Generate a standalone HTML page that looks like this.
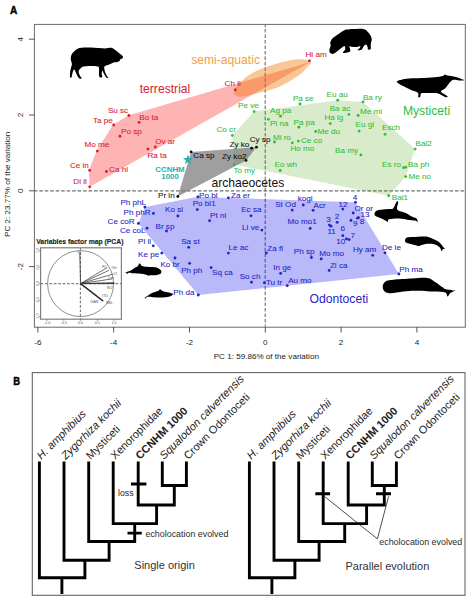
<!DOCTYPE html>
<html><head><meta charset="utf-8"><style>
html,body{margin:0;padding:0;background:#fff;width:470px;height:600px;overflow:hidden}
svg{display:block;font-family:"Liberation Sans",sans-serif}
</style></head><body>
<svg width="470" height="600" viewBox="0 0 470 600">
<rect width="470" height="600" fill="#fff"/>
<text transform="translate(10.1 14) scale(0.92 1)" font-weight="bold" font-size="11" fill="#000" stroke="#000" stroke-width="0.45">A</text>
<line x1="265.2" y1="25" x2="265.2" y2="326.5" stroke="#6e6e6e" stroke-width="1.1" stroke-dasharray="3.6,1.87" stroke-dashoffset="1.45"/>
<line x1="35" y1="190.9" x2="465" y2="190.9" stroke="#6e6e6e" stroke-width="1.1" stroke-dasharray="3.6,1.87" stroke-dashoffset="1.18"/>
<polygon points="89.7,186.8 88.9,170.3 96.6,150.8 113.2,124.6 128.9,115.2 309.8,62.2" fill="rgb(255,0,0)" fill-opacity="0.294"/>
<path d="M233.7,91.2 C234.0,89.8 235.0,87.5 236.6,85.4 C238.2,83.3 240.6,80.9 243.3,78.7 C246.0,76.5 249.1,74.1 252.9,72.0 C256.7,69.9 261.5,68.0 266.3,66.3 C271.1,64.5 276.8,62.8 281.6,61.5 C286.4,60.2 291.2,59.1 295.0,58.6 C298.8,58.1 302.2,58.4 304.6,58.6 C307.0,58.8 308.4,59.1 309.4,59.6 C310.4,60.1 310.9,61.0 310.7,61.9 C310.5,62.8 310.0,63.4 308.4,65.3 C306.8,67.1 304.0,70.5 300.8,73.0 C297.6,75.5 293.5,78.2 289.3,80.6 C285.1,83.0 280.4,85.5 275.9,87.3 C271.4,89.1 267.0,90.0 262.5,91.2 C258.0,92.4 252.9,93.6 249.1,94.4 C245.3,95.2 241.9,96.1 239.5,96.0 C237.1,95.9 235.7,94.5 234.7,93.7 C233.7,92.9 233.4,92.6 233.7,91.2 Z" fill="rgb(240,116,0)" fill-opacity="0.41" transform="translate(0 0.8)"/>
<polygon points="254.1,111.6 337.7,100.2 363,101.9 415.1,149.1 405.7,176.6 388.7,195.7 234,164.5 232.3,135.4" fill="rgb(60,160,0)" fill-opacity="0.2"/>
<polygon points="144.9,207.1 197.9,196.8 228.4,197.9 355.5,202.3 398.9,274 287.2,285.7 198.3,295 138.4,223.4" fill="rgb(0,0,233)" fill-opacity="0.2745"/>
<polygon points="191.1,151.9 256.5,147.2 246,160.4 177.8,196.5" fill="#7a7a7a" fill-opacity="0.72"/>
<rect x="34.4" y="24.4" width="430.9" height="302.8" fill="none" stroke="#6a6a6a" stroke-width="1"/>
<line x1="37.9" y1="327" x2="37.9" y2="332.5" stroke="#444" stroke-width="0.9"/>
<text x="37.9" y="345" font-size="8.1" fill="#222" text-anchor="middle">-6</text>
<line x1="113.7" y1="327" x2="113.7" y2="332.5" stroke="#444" stroke-width="0.9"/>
<text x="113.7" y="345" font-size="8.1" fill="#222" text-anchor="middle">-4</text>
<line x1="189.5" y1="327" x2="189.5" y2="332.5" stroke="#444" stroke-width="0.9"/>
<text x="189.5" y="345" font-size="8.1" fill="#222" text-anchor="middle">-2</text>
<line x1="265.3" y1="327" x2="265.3" y2="332.5" stroke="#444" stroke-width="0.9"/>
<text x="265.3" y="345" font-size="8.1" fill="#222" text-anchor="middle">0</text>
<line x1="341.1" y1="327" x2="341.1" y2="332.5" stroke="#444" stroke-width="0.9"/>
<text x="341.1" y="345" font-size="8.1" fill="#222" text-anchor="middle">2</text>
<line x1="416.9" y1="327" x2="416.9" y2="332.5" stroke="#444" stroke-width="0.9"/>
<text x="416.9" y="345" font-size="8.1" fill="#222" text-anchor="middle">4</text>
<line x1="29" y1="266.6" x2="34.5" y2="266.6" stroke="#444" stroke-width="0.9"/>
<text transform="translate(22.5 266.6) rotate(-90)" font-size="8.1" fill="#222" text-anchor="middle">-2</text>
<line x1="29" y1="190.8" x2="34.5" y2="190.8" stroke="#444" stroke-width="0.9"/>
<text transform="translate(22.5 190.8) rotate(-90)" font-size="8.1" fill="#222" text-anchor="middle">0</text>
<line x1="29" y1="115" x2="34.5" y2="115" stroke="#444" stroke-width="0.9"/>
<text transform="translate(22.5 115) rotate(-90)" font-size="8.1" fill="#222" text-anchor="middle">2</text>
<line x1="29" y1="39.2" x2="34.5" y2="39.2" stroke="#444" stroke-width="0.9"/>
<text transform="translate(22.5 39.2) rotate(-90)" font-size="8.1" fill="#222" text-anchor="middle">4</text>
<text x="266.3" y="358.9" font-size="8.1" fill="#222" text-anchor="middle">PC 1: 59.86% of the variation</text>
<text transform="translate(10 184.3) rotate(-90)" font-size="8.1" fill="#222" text-anchor="middle">PC 2: 23.77% of the variation</text>
<g fill="#d42034" stroke="#d42034" stroke-width="0.08">
<circle cx="89.7" cy="186.8" r="1.4"/>
<circle cx="89.7" cy="170.3" r="1.4"/>
<circle cx="97.3" cy="151.1" r="1.4"/>
<circle cx="113.7" cy="125" r="1.4"/>
<circle cx="128.9" cy="115.5" r="1.4"/>
<circle cx="120" cy="136.2" r="1.4"/>
<circle cx="106.4" cy="171.5" r="1.4"/>
<circle cx="139.1" cy="122.3" r="1.4"/>
<circle cx="155.3" cy="147" r="1.4"/>
<circle cx="147.9" cy="149.1" r="1.4"/>
<circle cx="235.3" cy="89.8" r="1.4"/>
<circle cx="309.4" cy="60.8" r="1.4"/>
<text x="73.3" y="184.3" font-size="8.1">Di il</text>
<text x="69.9" y="167.7" font-size="8.1">Ce in</text>
<text x="84.4" y="146.8" font-size="8.1">Mo me</text>
<text x="92.9" y="122.6" font-size="8.1">Ta pe</text>
<text x="107.9" y="113.1" font-size="8.1">Su sc</text>
<text x="121" y="134.3" font-size="8.1">Po sp</text>
<text x="109.1" y="171.5" font-size="8.1">Ca hi</text>
<text x="139.3" y="119.6" font-size="8.1">Bo ta</text>
<text x="155.2" y="144" font-size="8.1">Ov ar</text>
<text x="147.4" y="158.1" font-size="8.1">Ra ta</text>
<text x="224.6" y="85.7" font-size="8.1">Ch li</text>
<text x="305.5" y="57" font-size="8.1">Hi am</text>
</g>
<g fill="#111111" stroke="#111111" stroke-width="0.08">
<circle cx="191.1" cy="151.9" r="1.4"/>
<circle cx="251.6" cy="148.2" r="1.4"/>
<circle cx="256.5" cy="147.2" r="1.4"/>
<circle cx="246" cy="160.4" r="1.4"/>
<circle cx="177.8" cy="196.5" r="1.4"/>
<text x="193.3" y="158.3" font-size="8.1">Ca sp</text>
<text x="229.5" y="146.6" font-size="8.1">Zy ko</text>
<text x="249.7" y="142.3" font-size="8.1">Cy sp</text>
<text x="222.1" y="158.7" font-size="8.1">Zy ko2</text>
<text x="158" y="198.1" font-size="8.1">Pr in</text>
</g>
<g fill="#34bc3c" stroke="#34bc3c" stroke-width="0.08">
<circle cx="254.1" cy="111.6" r="1.4"/>
<circle cx="232.3" cy="135.4" r="1.4"/>
<circle cx="234" cy="164.5" r="1.4"/>
<circle cx="300" cy="104" r="1.4"/>
<circle cx="337.7" cy="100.2" r="1.4"/>
<circle cx="280.6" cy="116.2" r="1.4"/>
<circle cx="268.4" cy="119.3" r="1.4"/>
<circle cx="298.9" cy="127.2" r="1.4"/>
<circle cx="348.9" cy="114.4" r="1.4"/>
<circle cx="330.2" cy="123.6" r="1.4"/>
<circle cx="315.7" cy="131.5" r="1.4"/>
<circle cx="274.5" cy="142" r="1.4"/>
<circle cx="292.3" cy="142.8" r="1.4"/>
<circle cx="298.3" cy="141.1" r="1.4"/>
<circle cx="360.9" cy="154.9" r="1.4"/>
<circle cx="280.2" cy="170.5" r="1.4"/>
<circle cx="363" cy="101.9" r="1.4"/>
<circle cx="358.1" cy="115.5" r="1.4"/>
<circle cx="359.1" cy="131.1" r="1.4"/>
<circle cx="385.1" cy="134.3" r="1.4"/>
<circle cx="415.1" cy="149.1" r="1.4"/>
<circle cx="403.6" cy="167.7" r="1.4"/>
<circle cx="405.7" cy="167.2" r="1.4"/>
<circle cx="405.7" cy="176.6" r="1.4"/>
<circle cx="388.7" cy="195.7" r="1.4"/>
<text x="238" y="108.3" font-size="8.1">Pe ve</text>
<text x="216.5" y="132" font-size="8.1">Co cr</text>
<text x="233.5" y="172.8" font-size="8.1">To my</text>
<text x="292.9" y="100.6" font-size="8.1">Pa se</text>
<text x="326.5" y="97" font-size="8.1">Eu au</text>
<text x="270.1" y="113" font-size="8.1">Ag pa</text>
<text x="270.1" y="125.7" font-size="8.1">Pi na</text>
<text x="293.5" y="124.7" font-size="8.1">Pa pa</text>
<text x="329.7" y="110.9" font-size="8.1">Ba ac</text>
<text x="324.4" y="120.4" font-size="8.1">Ha ig</text>
<text x="317.4" y="134.3" font-size="8.1">Me du</text>
<text x="272.9" y="139.6" font-size="8.1">Mi ro</text>
<text x="290.4" y="151.3" font-size="8.1">Ho mo</text>
<text x="301" y="143.4" font-size="8.1">Ce co</text>
<text x="335" y="153.4" font-size="8.1">Ba my</text>
<text x="274.6" y="166.7" font-size="8.1">Eo wh</text>
<text x="362.9" y="99.6" font-size="8.1">Ba ry</text>
<text x="360.1" y="114" font-size="8.1">Me mi</text>
<text x="355.5" y="127.2" font-size="8.1">Eu gl</text>
<text x="382.1" y="130.4" font-size="8.1">Esch</text>
<text x="415.5" y="146.4" font-size="8.1">Bal2</text>
<text x="382.1" y="167.2" font-size="8.1">Es ro</text>
<text x="408" y="167.2" font-size="8.1">Ba ph</text>
<text x="408.4" y="179.4" font-size="8.1">Me no</text>
<text x="391.8" y="199.6" font-size="8.1">Bal1</text>
</g>
<g fill="#2424c4" stroke="#2424c4" stroke-width="0.08">
<circle cx="144.9" cy="207.1" r="1.4"/>
<circle cx="153.4" cy="213.4" r="1.4"/>
<circle cx="177.9" cy="216" r="1.4"/>
<circle cx="138.4" cy="223.4" r="1.4"/>
<circle cx="147" cy="228.2" r="1.4"/>
<circle cx="166.5" cy="231" r="1.4"/>
<circle cx="153.3" cy="245.8" r="1.4"/>
<circle cx="161.8" cy="253.1" r="1.4"/>
<circle cx="175" cy="258" r="1.4"/>
<circle cx="188.7" cy="247.3" r="1.4"/>
<circle cx="189.6" cy="263.3" r="1.4"/>
<circle cx="211.1" cy="267.6" r="1.4"/>
<circle cx="251.5" cy="282.2" r="1.4"/>
<circle cx="264.3" cy="282.8" r="1.4"/>
<circle cx="198.3" cy="295" r="1.4"/>
<circle cx="228.4" cy="253.1" r="1.4"/>
<circle cx="266.3" cy="253" r="1.4"/>
<circle cx="197.9" cy="196.8" r="1.4"/>
<circle cx="228.4" cy="197.8" r="1.4"/>
<circle cx="197.3" cy="209.6" r="1.4"/>
<circle cx="209.6" cy="220.7" r="1.4"/>
<circle cx="251" cy="215.8" r="1.4"/>
<circle cx="261.9" cy="230.1" r="1.4"/>
<circle cx="303.3" cy="205" r="1.4"/>
<circle cx="292.2" cy="210.1" r="1.4"/>
<circle cx="313.1" cy="210.3" r="1.4"/>
<circle cx="342.8" cy="209.1" r="1.4"/>
<circle cx="355.5" cy="202.3" r="1.4"/>
<circle cx="353.2" cy="213" r="1.4"/>
<circle cx="358.5" cy="217.7" r="1.4"/>
<circle cx="351" cy="220.4" r="1.4"/>
<circle cx="357.5" cy="218.2" r="1.4"/>
<circle cx="329.4" cy="225.1" r="1.4"/>
<circle cx="337.2" cy="222.3" r="1.4"/>
<circle cx="331" cy="226.2" r="1.4"/>
<circle cx="342.8" cy="235.7" r="1.4"/>
<circle cx="349.1" cy="239.6" r="1.4"/>
<circle cx="346.4" cy="238.9" r="1.4"/>
<circle cx="310.2" cy="228.4" r="1.4"/>
<circle cx="372.7" cy="255.3" r="1.4"/>
<circle cx="385" cy="252.8" r="1.4"/>
<circle cx="311.4" cy="257.5" r="1.4"/>
<circle cx="321.2" cy="258.9" r="1.4"/>
<circle cx="329.2" cy="270.4" r="1.4"/>
<circle cx="280.6" cy="273.4" r="1.4"/>
<circle cx="287.2" cy="285.7" r="1.4"/>
<circle cx="398.9" cy="274" r="1.4"/>
<text x="120.4" y="204.9" font-size="8.1">Ph phL</text>
<text x="123.5" y="214.9" font-size="8.1">Ph phR</text>
<text x="165" y="212.3" font-size="8.1">Ko si</text>
<text x="107.6" y="224" font-size="8.1">Ce coR</text>
<text x="119.9" y="232.6" font-size="8.1">Ce coL</text>
<text x="155.5" y="229.4" font-size="8.1">Br sp</text>
<text x="138" y="243.6" font-size="8.1">Pl li</text>
<text x="138" y="256.6" font-size="8.1">Ke pe</text>
<text x="160.4" y="266.6" font-size="8.1">Ko br</text>
<text x="181.2" y="243.9" font-size="8.1">Sa st</text>
<text x="181.2" y="273.3" font-size="8.1">Ph ph</text>
<text x="212.1" y="275.4" font-size="8.1">Sq ca</text>
<text x="239.7" y="278.6" font-size="8.1">So ch</text>
<text x="265.9" y="284.7" font-size="8.1">Tu tr</text>
<text x="173.3" y="294.6" font-size="8.1">Ph da</text>
<text x="228.4" y="249.9" font-size="8.1">Le ac</text>
<text x="267.2" y="250.5" font-size="8.1">Za fl</text>
<text x="199.1" y="197.8" font-size="8.1">Po bl</text>
<text x="231" y="197.8" font-size="8.1">Za er</text>
<text x="192.7" y="206.3" font-size="8.1">Po bl1</text>
<text x="210.1" y="218" font-size="8.1">Pt ni</text>
<text x="241.2" y="211.6" font-size="8.1">Ec sa</text>
<text x="242.1" y="230.1" font-size="8.1">Li ve</text>
<text x="297.8" y="200.7" font-size="8.1">kogi</text>
<text x="275.2" y="206.7" font-size="8.1">St Od</text>
<text x="313.5" y="207.8" font-size="8.1">Acr</text>
<text x="338.4" y="206.6" font-size="8.1">12</text>
<text x="352.7" y="199.6" font-size="8.1">4</text>
<text x="354.4" y="211.3" font-size="8.1">Or or</text>
<text x="360.4" y="217.2" font-size="8.1">13</text>
<text x="352.9" y="225.7" font-size="8.1">9</text>
<text x="359.7" y="224" font-size="8.1">8</text>
<text x="326.3" y="221.5" font-size="8.1">3</text>
<text x="334.8" y="219.1" font-size="8.1">2</text>
<text x="327.4" y="233.6" font-size="8.1">11</text>
<text x="340.5" y="230.9" font-size="8.1">6</text>
<text x="350.5" y="237.9" font-size="8.1">7</text>
<text x="336.3" y="244.3" font-size="8.1">10</text>
<text x="287.4" y="223.7" font-size="8.1">Mo mo1</text>
<text x="352.9" y="251.7" font-size="8.1">Hy am</text>
<text x="382" y="249.6" font-size="8.1">De le</text>
<text x="293.8" y="253.8" font-size="8.1">Ph sp</text>
<text x="319.3" y="256" font-size="8.1">Mo mo</text>
<text x="329.9" y="267.7" font-size="8.1">Zi ca</text>
<text x="273.3" y="269.8" font-size="8.1">In ge</text>
<text x="288.2" y="282.6" font-size="8.1">Au mo</text>
<text x="399.3" y="271.5" font-size="8.1">Ph ma</text>
</g>
<text x="139.7" y="93" font-size="12.15" fill="#d42034">terrestrial</text>
<text x="191.2" y="64" font-size="12.15" fill="#f0a048">semi-aquatic</text>
<text x="211.4" y="187" font-size="12.15" fill="#111">archaeocetes</text>
<text x="402.9" y="115" font-size="12.15" fill="#34bc3c">Mysticeti</text>
<text x="309.5" y="303.4" font-size="12.15" fill="#2424c4">Odontoceti</text>
<polygon points="188.00,154.60 189.29,158.12 193.04,158.26 190.09,160.58 191.12,164.19 188.00,162.10 184.88,164.19 185.91,160.58 182.96,158.26 186.71,158.12" fill="#2aaeae"/>
<text x="155.3" y="171.5" font-size="7.9" font-weight="bold" fill="#2aaeae">CCNHM</text>
<text x="161.3" y="178.5" font-size="7.9" font-weight="bold" fill="#2aaeae">1000</text>
<path d="M74.1,51.4 C75.4,50.4 76.8,48.8 79.4,48.1 C82.0,47.5 85.6,47.5 89.8,47.5 C94.0,47.5 101.1,48.4 104.7,48.4 C108.3,48.4 109.5,47.4 111.4,47.8 C113.3,48.2 114.5,49.6 115.9,50.6 C117.3,51.6 118.4,52.6 119.6,53.6 C120.8,54.6 122.5,55.8 122.9,56.6 C123.4,57.4 122.7,58.0 122.3,58.5 C121.9,59.0 120.8,58.9 120.3,59.3 C119.8,59.7 120.1,60.6 119.6,61.1 C119.1,61.6 118.3,61.9 117.3,62.1 C116.3,62.4 114.9,62.2 113.6,62.6 C112.2,63.0 110.7,63.9 109.2,64.5 C107.7,65.1 105.5,65.5 104.7,66.3 C103.9,67.1 104.3,68.2 104.4,69.3 C104.5,70.4 104.9,71.8 105.4,73.0 C105.9,74.2 106.9,75.9 107.4,76.7 C107.9,77.5 108.6,77.5 108.4,77.7 C108.2,77.9 107.2,78.4 106.5,77.7 C105.8,77.0 104.6,74.9 103.9,73.7 C103.2,72.5 102.8,70.7 102.4,70.7 C102.0,70.7 101.7,72.7 101.7,73.7 C101.7,74.8 102.5,76.4 102.2,77.0 C102.0,77.6 100.7,77.7 100.2,77.4 C99.7,77.1 99.2,76.6 99.0,75.2 C98.8,73.8 99.2,70.7 99.0,69.3 C98.8,67.9 99.5,67.1 98.0,66.6 C96.5,66.0 92.2,66.0 89.8,66.0 C87.4,66.0 85.3,66.2 83.8,66.6 C82.3,66.9 81.8,67.3 80.9,68.1 C80.0,68.9 78.7,70.2 78.6,71.5 C78.5,72.8 79.6,74.9 80.1,76.0 C80.6,77.1 81.7,77.8 81.6,78.2 C81.5,78.6 80.2,79.1 79.4,78.6 C78.7,78.1 77.7,76.3 77.1,75.2 C76.5,74.1 76.1,72.8 75.6,71.9 C75.1,71.0 74.6,69.5 74.1,69.6 C73.6,69.6 73.1,71.0 72.7,72.2 C72.3,73.4 72.0,76.1 71.6,77.0 C71.2,77.9 70.3,78.2 70.1,77.4 C69.8,76.6 69.9,73.9 70.1,72.2 C70.3,70.5 70.9,68.4 71.2,67.0 C71.5,65.6 72.0,65.4 71.9,64.0 C71.8,62.6 70.8,60.4 70.7,58.8 C70.7,57.2 71.0,55.6 71.6,54.4 C72.2,53.2 72.8,52.4 74.1,51.4 Z" fill="#000"/>
<path d="M330.2,53.1 C329.5,52.4 329.3,50.6 329.4,49.4 C329.5,48.2 330.6,46.8 330.7,45.7 C330.8,44.6 330.0,44.1 330.2,43.0 C330.4,41.9 331.2,40.3 331.8,39.3 C332.4,38.3 332.7,38.2 333.9,37.2 C335.1,36.2 337.4,34.5 339.2,33.4 C341.0,32.2 343.3,30.9 344.6,30.3 C345.9,29.7 345.6,29.8 347.0,29.6 C348.4,29.4 350.7,29.1 353.0,29.0 C355.3,28.9 358.7,28.6 360.7,28.7 C362.7,28.8 363.6,29.0 364.9,29.6 C366.2,30.2 367.4,31.5 368.4,32.6 C369.4,33.7 370.2,34.9 370.8,36.1 C371.4,37.3 371.7,38.4 371.7,39.7 C371.7,41.0 370.9,42.4 370.8,43.9 C370.7,45.4 370.9,47.7 370.8,48.6 C370.7,49.5 370.7,49.4 370.2,49.5 C369.7,49.6 368.2,49.8 367.8,49.5 C367.4,49.2 368.0,48.7 367.8,48.0 C367.6,47.3 367.2,45.6 366.7,45.1 C366.2,44.6 365.4,44.9 364.9,45.1 C364.4,45.3 364.1,45.7 363.7,46.3 C363.3,46.9 362.9,48.0 362.5,48.6 C362.1,49.2 362.0,49.5 361.3,49.8 C360.6,50.1 358.9,50.4 358.3,50.4 C357.8,50.4 357.8,49.9 358.0,49.5 C358.2,49.1 359.4,48.5 359.8,48.0 C360.2,47.5 360.8,46.4 360.1,46.3 C359.5,46.1 357.3,47.0 355.9,47.1 C354.5,47.2 352.9,46.9 351.8,46.8 C350.7,46.7 349.7,46.0 349.4,46.3 C349.1,46.6 349.9,47.8 350.0,48.6 C350.1,49.4 350.4,50.4 350.3,51.0 C350.2,51.6 349.8,51.7 349.3,52.0 C348.8,52.3 348.2,52.4 347.2,52.6 C346.2,52.8 344.2,53.2 343.5,53.1 C342.8,53.0 342.7,52.7 343.0,52.1 C343.3,51.5 344.8,50.4 345.1,49.4 C345.4,48.4 345.1,46.6 344.6,46.2 C344.2,45.9 343.6,46.5 342.4,47.3 C341.2,48.1 339.1,49.9 337.6,51.0 C336.1,52.1 334.6,53.4 333.4,53.7 C332.2,54.1 330.9,53.8 330.2,53.1 Z" fill="#000"/>
<path d="M396.9,81.3 C397.5,80.6 399.9,79.9 402.4,79.4 C404.9,78.9 408.2,78.5 411.9,78.2 C415.6,78.0 420.3,78.1 424.5,77.9 C428.7,77.7 434.1,77.4 437.1,77.1 C440.1,76.8 441.3,76.5 442.6,76.0 C443.9,75.5 444.2,74.5 445.0,74.4 C445.8,74.3 446.2,75.2 447.3,75.5 C448.4,75.8 449.9,75.7 451.3,76.0 C452.8,76.3 454.4,76.6 456.0,77.1 C457.6,77.5 459.3,78.2 460.7,78.7 C462.1,79.2 464.5,79.9 464.2,80.2 C463.9,80.5 460.9,80.5 459.1,80.4 C457.3,80.3 455.0,79.7 453.6,79.8 C452.2,79.9 451.8,80.6 450.9,81.3 C450.0,82.0 449.4,83.0 448.4,84.2 C447.4,85.4 446.2,87.3 445.0,88.6 C443.8,89.8 440.6,90.5 441.0,91.7 C441.4,92.9 446.5,95.1 447.3,96.0 C448.1,96.9 447.0,97.5 445.7,97.2 C444.4,96.9 441.2,94.6 439.4,93.9 C437.6,93.2 437.2,93.2 434.7,93.1 C432.2,92.9 426.8,92.9 424.5,93.0 C422.2,93.1 421.7,92.9 421.0,93.6 C420.3,94.3 420.6,96.5 420.1,97.1 C419.6,97.7 418.6,97.8 418.2,97.1 C417.8,96.4 419.1,94.0 417.9,92.8 C416.7,91.6 413.6,91.1 411.1,90.0 C408.7,88.9 405.3,87.2 403.2,86.1 C401.1,85.0 399.6,84.2 398.5,83.4 C397.4,82.6 396.2,82.0 396.9,81.3 Z" fill="#000"/>
<path d="M374.5,213.5 C374.8,212.5 375.3,211.1 377.7,210.3 C380.1,209.6 386.6,209.3 389.1,209.0 C391.7,208.7 391.7,209.7 393.0,208.4 C394.3,207.1 395.9,202.4 396.8,201.4 C397.7,200.4 398.0,201.3 398.1,202.7 C398.2,204.1 396.1,208.0 397.4,209.7 C398.7,211.4 403.0,211.6 405.7,212.9 C408.4,214.2 411.7,216.5 413.4,217.3 C415.1,218.2 415.2,217.2 416.0,218.0 C416.8,218.8 418.1,221.4 417.9,221.8 C417.7,222.2 416.3,220.8 414.7,220.5 C413.1,220.2 410.9,220.2 408.3,219.9 C405.8,219.6 402.6,218.7 399.4,218.6 C396.2,218.5 391.0,218.8 389.1,219.3 C387.2,219.8 388.5,221.6 387.9,221.8 C387.3,222.0 386.4,221.0 385.3,220.5 C384.2,220.0 383.1,219.3 381.5,218.6 C379.9,217.9 376.9,216.9 375.7,216.1 C374.5,215.2 374.2,214.5 374.5,213.5 Z" fill="#000"/>
<path d="M406.4,237.8 C405.1,238.5 405.0,240.2 405.1,241.0 C405.2,241.8 405.1,242.2 407.0,242.9 C408.9,243.6 414.7,244.9 416.6,245.4 C418.5,245.9 417.0,246.3 418.5,246.1 C420.0,245.9 423.1,244.4 425.5,244.1 C427.9,243.8 430.8,243.6 433.2,244.1 C435.6,244.6 438.2,246.1 439.6,247.3 C441.0,248.5 441.0,250.9 441.5,251.2 C442.0,251.5 442.2,249.7 442.8,249.3 C443.4,248.9 445.2,248.9 445.3,248.6 C445.4,248.3 444.6,248.5 443.4,247.3 C442.2,246.1 440.9,243.3 438.3,241.6 C435.8,239.9 430.7,237.9 428.1,237.1 C425.6,236.2 425.6,236.5 423.0,236.5 C420.4,236.5 415.6,236.9 412.8,237.1 C410.0,237.3 407.7,237.2 406.4,237.8 Z" fill="#000"/>
<path d="M385.7,281.4 C387.4,280.4 388.9,280.2 393.3,279.7 C397.7,279.2 406.3,278.8 412.0,278.5 C417.7,278.2 423.7,277.5 427.4,278.0 C431.1,278.5 431.6,279.8 434.2,281.4 C436.8,282.9 440.9,286.0 442.7,287.3 C444.5,288.6 443.5,288.5 445.2,289.0 C446.9,289.5 451.2,290.1 452.9,290.4 C454.6,290.7 455.8,290.3 455.4,290.7 C455.0,291.1 451.8,291.8 450.5,292.8 C449.2,293.8 448.5,296.6 447.6,296.6 C446.7,296.6 447.4,293.4 445.2,292.6 C443.0,291.8 439.2,291.9 434.2,291.6 C429.2,291.3 420.5,290.7 415.4,290.7 C410.3,290.7 407.8,291.2 403.5,291.6 C399.2,292.0 393.1,293.5 389.9,293.3 C386.6,293.1 385.2,292.0 384.0,290.7 C382.8,289.4 382.5,287.2 382.8,285.6 C383.1,284.1 383.9,282.4 385.7,281.4 Z" fill="#000"/>
<path d="M124.1,272.3 C124.2,272.1 125.8,272.1 126.7,271.9 C127.6,271.7 128.6,271.6 129.7,271.1 C130.8,270.6 131.8,269.6 133.1,268.9 C134.4,268.1 136.4,267.3 137.3,266.6 C138.2,265.9 138.2,265.2 138.6,264.7 C138.9,264.2 139.1,263.5 139.4,263.4 C139.7,263.2 139.9,263.4 140.3,263.8 C140.7,264.2 140.9,265.5 142.0,266.0 C143.1,266.5 144.9,266.6 146.7,266.8 C148.5,267.0 150.8,266.9 152.6,267.1 C154.4,267.3 156.3,267.5 157.7,268.1 C159.1,268.7 160.5,269.7 161.0,270.6 C161.5,271.5 161.6,272.8 160.8,273.6 C160.0,274.4 157.8,274.9 156.0,275.2 C154.2,275.5 151.3,275.2 150.1,275.3 C148.9,275.4 149.4,275.8 148.8,275.7 C148.2,275.6 148.3,275.2 146.7,274.9 C145.1,274.5 141.4,273.9 139.0,273.6 C136.6,273.3 133.9,273.3 132.2,273.2 C130.5,273.1 129.7,272.7 128.8,272.8 C128.0,272.9 127.5,274.0 127.1,274.0 C126.7,274.0 126.8,273.1 126.3,272.8 C125.8,272.5 124.0,272.5 124.1,272.3 Z" fill="#000"/>
<path d="M144.7,298.0 C144.9,297.6 145.7,297.1 146.8,296.3 C147.9,295.5 149.4,294.2 151.1,293.4 C152.8,292.5 155.7,291.7 157.0,291.2 C158.3,290.7 158.6,290.8 159.1,290.4 C159.6,290.0 159.7,289.2 160.0,289.1 C160.3,289.0 160.3,289.6 160.9,290.0 C161.5,290.4 162.5,291.1 163.8,291.5 C165.1,291.9 167.4,292.1 168.9,292.5 C170.4,292.9 172.2,293.4 172.8,293.8 C173.4,294.2 173.0,294.6 172.3,295.1 C171.7,295.6 170.7,296.4 168.9,296.8 C167.1,297.2 164.0,297.5 161.3,297.6 C158.6,297.7 155.1,297.3 152.8,297.2 C150.5,297.1 148.9,296.6 147.7,296.8 C146.5,297.0 146.0,298.3 145.5,298.5 C145.0,298.7 144.5,298.4 144.7,298.0 Z" fill="#000"/>
<rect x="40.6" y="247.8" width="80.8" height="71.4" fill="#fff" stroke="#808080" stroke-width="1.2"/>
<text x="36.2" y="243.8" font-size="6.8" font-weight="bold" fill="#222" stroke="#222" stroke-width="0.15">Variables factor map (PCA)</text>
<circle cx="80.6" cy="283.6" r="33" fill="none" stroke="#444" stroke-width="0.6"/>
<line x1="40.6" y1="283.6" x2="121.6" y2="283.6" stroke="#808080" stroke-width="1.2" stroke-dasharray="2.7,1.7"/>
<line x1="80.4" y1="247.8" x2="80.4" y2="319.4" stroke="#808080" stroke-width="1.2" stroke-dasharray="2.7,1.7"/>
<text x="47.1" y="324" font-size="3.6" fill="#555" text-anchor="middle">-1.0</text>
<line x1="47.1" y1="319.2" x2="47.1" y2="321" stroke="#777" stroke-width="0.6"/>
<text transform="translate(38.6 316.6) rotate(-90)" font-size="3.6" fill="#555" text-anchor="middle">-1.0</text>
<line x1="40.6" y1="316.6" x2="38.8" y2="316.6" stroke="#777" stroke-width="0.6"/>
<text x="63.85" y="324" font-size="3.6" fill="#555" text-anchor="middle">-0.5</text>
<line x1="63.85" y1="319.2" x2="63.85" y2="321" stroke="#777" stroke-width="0.6"/>
<text transform="translate(38.6 300.1) rotate(-90)" font-size="3.6" fill="#555" text-anchor="middle">-0.5</text>
<line x1="40.6" y1="300.1" x2="38.8" y2="300.1" stroke="#777" stroke-width="0.6"/>
<text x="80.6" y="324" font-size="3.6" fill="#555" text-anchor="middle">0.0</text>
<line x1="80.6" y1="319.2" x2="80.6" y2="321" stroke="#777" stroke-width="0.6"/>
<text transform="translate(38.6 283.6) rotate(-90)" font-size="3.6" fill="#555" text-anchor="middle">0.0</text>
<line x1="40.6" y1="283.6" x2="38.8" y2="283.6" stroke="#777" stroke-width="0.6"/>
<text x="97.35" y="324" font-size="3.6" fill="#555" text-anchor="middle">0.5</text>
<line x1="97.35" y1="319.2" x2="97.35" y2="321" stroke="#777" stroke-width="0.6"/>
<text transform="translate(38.6 267.1) rotate(-90)" font-size="3.6" fill="#555" text-anchor="middle">0.5</text>
<line x1="40.6" y1="267.1" x2="38.8" y2="267.1" stroke="#777" stroke-width="0.6"/>
<text x="114.1" y="324" font-size="3.6" fill="#555" text-anchor="middle">1.0</text>
<line x1="114.1" y1="319.2" x2="114.1" y2="321" stroke="#777" stroke-width="0.6"/>
<text transform="translate(38.6 250.6) rotate(-90)" font-size="3.6" fill="#555" text-anchor="middle">1.0</text>
<line x1="40.6" y1="250.6" x2="38.8" y2="250.6" stroke="#777" stroke-width="0.6"/>
<line x1="80.6" y1="283.6" x2="79.8" y2="252.3" stroke="#333" stroke-width="0.8"/>
<line x1="80.6" y1="283.6" x2="106.9" y2="267.7" stroke="#333" stroke-width="0.7"/>
<line x1="80.6" y1="283.6" x2="109" y2="270.3" stroke="#333" stroke-width="0.7"/>
<line x1="80.6" y1="283.6" x2="112.8" y2="274.1" stroke="#333" stroke-width="0.7"/>
<line x1="80.6" y1="283.6" x2="112.2" y2="278.9" stroke="#333" stroke-width="0.7"/>
<line x1="80.6" y1="283.6" x2="114.4" y2="282.6" stroke="#333" stroke-width="0.8"/>
<line x1="80.6" y1="283.6" x2="114.4" y2="283.6" stroke="#333" stroke-width="0.9"/>
<line x1="80.6" y1="283.6" x2="103.2" y2="301.2" stroke="#333" stroke-width="1.5"/>
<line x1="80.6" y1="283.6" x2="102" y2="300.2" stroke="#333" stroke-width="0.8"/>
<text x="77" y="254.4" font-size="3.8" fill="#555">TY</text>
<text x="102" y="267.7" font-size="3.8" fill="#555">FC</text>
<text x="111.6" y="269.3" font-size="3.8" fill="#555">Gh</text>
<text x="113.3" y="274.6" font-size="3.8" fill="#555">CI</text>
<text x="108" y="279.4" font-size="3.8" fill="#555">Cm</text>
<text x="106.8" y="289" font-size="3.8" fill="#555">W2</text>
<text x="102" y="297" font-size="3.8" fill="#555">ITD</text>
<text x="90.3" y="303.3" font-size="3.8" fill="#555">GAN</text>
<text x="105.8" y="303.9" font-size="3.8" fill="#555">SBL</text>
<text transform="translate(13.2 385.3) scale(0.8 1)" font-weight="bold" font-size="11.8" fill="#000" stroke="#000" stroke-width="0.45">B</text>
<rect x="32.3" y="372.6" width="432.7" height="222.7" fill="none" stroke="#666" stroke-width="1.1"/>
<path d="M162.3,463 L162.3,485.5 M186.4,463 L186.4,485.5 M162.3,485.5 L186.4,485.5 M174.3,485.5 L174.3,505 M138.2,463 L138.2,505 M138.2,505 L174.3,505 M156.6,505 L156.6,523.6 M113.2,463 L113.2,523.6 M113.2,523.6 L156.6,523.6 M134.7,523.6 L134.7,541.5 M88.7,463 L88.7,541.5 M88.7,541.5 L134.7,541.5 M109.1,541.5 L109.1,560.3 M64,463 L64,560.3 M64,560.3 L109.1,560.3 M84.9,560.3 L84.9,577.7 M39.4,463 L39.4,577.7 M39.4,577.7 L84.9,577.7 M61.9,577.7 L61.9,592.5" stroke="#000" stroke-width="2.9" fill="none" stroke-linecap="square"/>
<text transform="translate(41.2 460) rotate(-45)" font-size="11" font-style="italic" font-weight="normal" fill="#222">H. amphibius</text>
<text transform="translate(65.8 460) rotate(-45)" font-size="11" font-style="italic" font-weight="normal" fill="#222">Zygorhiza kochii</text>
<text transform="translate(90.5 460) rotate(-45)" font-size="11" font-style="normal" font-weight="normal" fill="#222">Mysticeti</text>
<text transform="translate(115 460) rotate(-45)" font-size="11" font-style="normal" font-weight="normal" fill="#222">Xenorophidae</text>
<text transform="translate(140 460) rotate(-45)" font-size="11" font-style="normal" font-weight="bold" fill="#222">CCNHM 1000</text>
<text transform="translate(164.1 460) rotate(-45)" font-size="11" font-style="italic" font-weight="normal" fill="#222">Squalodon calvertensis</text>
<text transform="translate(188.2 460) rotate(-45)" font-size="11" font-style="normal" font-weight="normal" fill="#222">Crown Odontoceti</text>
<path d="M372.3,463 L372.3,485.5 M396.4,463 L396.4,485.5 M372.3,485.5 L396.4,485.5 M384.3,485.5 L384.3,505 M348.2,463 L348.2,505 M348.2,505 L384.3,505 M366.6,505 L366.6,523.6 M323.2,463 L323.2,523.6 M323.2,523.6 L366.6,523.6 M344.7,523.6 L344.7,541.5 M298.7,463 L298.7,541.5 M298.7,541.5 L344.7,541.5 M319.1,541.5 L319.1,560.3 M274,463 L274,560.3 M274,560.3 L319.1,560.3 M294.9,560.3 L294.9,577.7 M249.4,463 L249.4,577.7 M249.4,577.7 L294.9,577.7 M271.9,577.7 L271.9,592.5" stroke="#000" stroke-width="2.9" fill="none" stroke-linecap="square"/>
<text transform="translate(251.2 460) rotate(-45)" font-size="11" font-style="italic" font-weight="normal" fill="#222">H. amphibius</text>
<text transform="translate(275.8 460) rotate(-45)" font-size="11" font-style="italic" font-weight="normal" fill="#222">Zygorhiza kochii</text>
<text transform="translate(300.5 460) rotate(-45)" font-size="11" font-style="normal" font-weight="normal" fill="#222">Mysticeti</text>
<text transform="translate(325 460) rotate(-45)" font-size="11" font-style="normal" font-weight="normal" fill="#222">Xenorophidae</text>
<text transform="translate(350 460) rotate(-45)" font-size="11" font-style="normal" font-weight="bold" fill="#222">CCNHM 1000</text>
<text transform="translate(374.1 460) rotate(-45)" font-size="11" font-style="italic" font-weight="normal" fill="#222">Squalodon calvertensis</text>
<text transform="translate(398.2 460) rotate(-45)" font-size="11" font-style="normal" font-weight="normal" fill="#222">Crown Odontoceti</text>
<path d="M131,484 L146.4,484 M127.5,533.1 L141.8,533.1" stroke="#000" stroke-width="2.9"/>
<text x="118" y="496.3" font-size="8.8" fill="#222">loss</text>
<text x="145.5" y="537" font-size="8.9" fill="#2a2a2a">echolocation evolved</text>
<text x="134.3" y="568.7" font-size="11" fill="#333">Single origin</text>
<path d="M315.3,493.7 L330.1,493.7 M376,493.7 L391,493.7" stroke="#000" stroke-width="2.9"/>
<path d="M324.3,496.3 L377.4,538.9 L388.6,496.3" stroke="#222" stroke-width="0.8" fill="none"/>
<text x="379.3" y="544.6" font-size="8.9" fill="#2a2a2a">echolocation evolved</text>
<text x="345.5" y="569.8" font-size="11" fill="#333">Parallel evolution</text>
</svg></body></html>
